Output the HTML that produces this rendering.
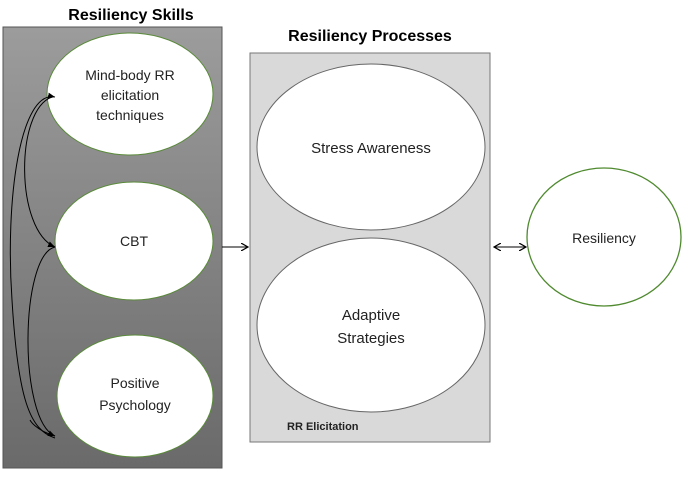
<!DOCTYPE html>
<html><head><style>
body{margin:0;width:685px;height:478px;background:#fff;overflow:hidden;font-family:"Liberation Sans",sans-serif;}
</style></head><body>
<svg width="685" height="478" xmlns="http://www.w3.org/2000/svg" style="position:absolute;left:0;top:0">
<defs>
<linearGradient id="g" x1="0" y1="0" x2="0" y2="1"><stop offset="0" stop-color="#9c9c9c"/><stop offset="1" stop-color="#6a6a6a"/></linearGradient>
<marker id="a" markerWidth="8" markerHeight="8" refX="7" refY="4" orient="auto-start-reverse" markerUnits="userSpaceOnUse"><path d="M0,0 L7,4 L0,8" fill="none" stroke="#000" stroke-width="1.2"/></marker>
<marker id="f" markerWidth="8" markerHeight="8" refX="7" refY="4" orient="auto-start-reverse" markerUnits="userSpaceOnUse"><path d="M0,1 L7,4 L0,7z" fill="#000"/></marker>
</defs>
<text x="131" y="20" text-anchor="middle" font-size="16" font-weight="bold">Resiliency Skills</text>
<rect x="3" y="27" width="219" height="441" fill="url(#g)" stroke="#555" stroke-width="1"/>
<ellipse cx="130" cy="94" rx="83" ry="61" fill="#fff" stroke="#5a8a3a" stroke-width="1"/>
<ellipse cx="134" cy="241" rx="79" ry="59" fill="#fff" stroke="#5a8a3a" stroke-width="1"/>
<ellipse cx="135" cy="396" rx="78" ry="61" fill="#fff" stroke="#5a8a3a" stroke-width="1"/>
<g font-size="14" text-anchor="middle" fill="#222">
<text x="130" y="80">Mind-body RR</text><text x="130" y="100">elicitation</text><text x="130" y="120">techniques</text>
<text x="134" y="246">CBT</text>
<text x="135" y="388">Positive</text><text x="135" y="410">Psychology</text>
</g>
<g fill="none" stroke="#000" stroke-width="1">
<path d="M55,438 C30,430 18,400 12,300 C5,200 20,90 55,97" marker-end="url(#f)"/>
<path d="M52,97 C15,110 15,230 55,247" marker-end="url(#f)"/>
<path d="M55,247 C20,255 18,420 55,436" marker-end="url(#f)"/>
<path d="M55,436 C35,430 30,420 30,420" />
</g>
<line x1="222" y1="247" x2="248" y2="247" stroke="#000" marker-end="url(#a)"/>
<text x="370" y="41" text-anchor="middle" font-size="16" font-weight="bold">Resiliency Processes</text>
<rect x="250" y="53" width="240" height="389" fill="#d9d9d9" stroke="#777"/>
<ellipse cx="371" cy="147" rx="114" ry="83" fill="#fff" stroke="#666"/>
<ellipse cx="371" cy="325" rx="114" ry="87" fill="#fff" stroke="#666"/>
<g font-size="15" text-anchor="middle" fill="#222">
<text x="371" y="153">Stress Awareness</text>
<text x="371" y="320">Adaptive</text><text x="371" y="343">Strategies</text>
</g>
<text x="287" y="430" font-size="11" font-weight="bold" fill="#222">RR Elicitation</text>
<line x1="494" y1="247" x2="526" y2="247" stroke="#000" marker-end="url(#a)" marker-start="url(#a)"/>
<ellipse cx="604" cy="237" rx="77" ry="69" fill="#fff" stroke="#4f8a2f" stroke-width="1.3"/>
<text x="604" y="243" font-size="14" text-anchor="middle" fill="#222">Resiliency</text>
</svg>
</body></html>
